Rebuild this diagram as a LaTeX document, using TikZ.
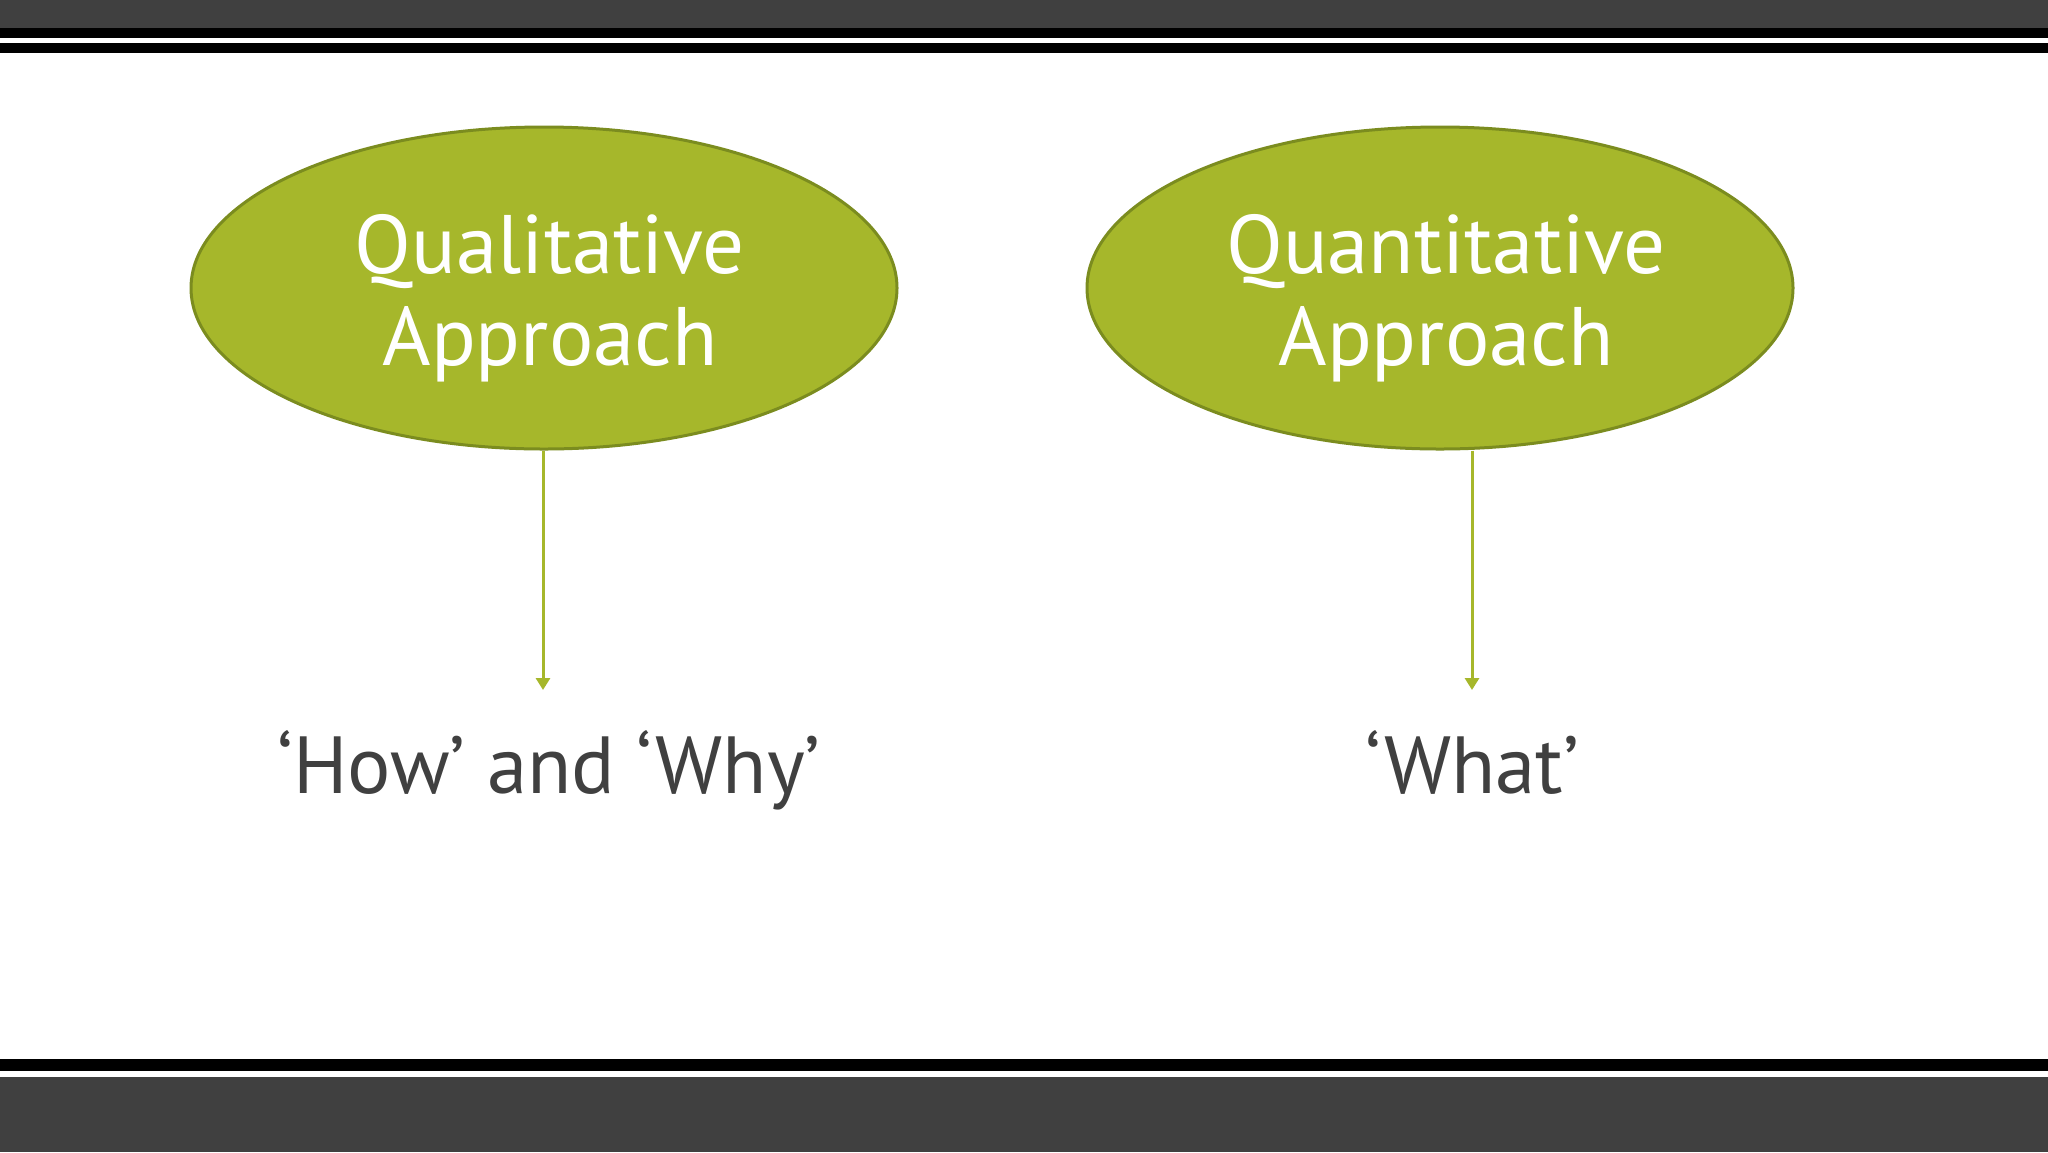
\documentclass[tikz,border=0pt]{standalone}
\usepackage{fontspec}
\setmainfont{PT Sans}
\usetikzlibrary{shapes.geometric,arrows.meta}
\definecolor{bar}{HTML}{404040}
\definecolor{leaf}{HTML}{A6B72B}
\definecolor{leafdark}{HTML}{7B8C1F}
\definecolor{ink}{HTML}{404040}
\tikzset{
  oval/.style={ellipse, fill=leaf, draw=leafdark, line width=1.5pt,
    minimum width=353pt, minimum height=161pt, inner sep=0pt},
  ovaltext/.style={text=white, font=\fontsize{41.5}{46}\selectfont, align=center},
  answer/.style={text=ink, font=\fontsize{40.5}{46}\selectfont, anchor=base},
  link/.style={draw=leaf, line width=1.5pt, -{Triangle[length=6pt,width=7pt]}}
}
\begin{document}
\begin{tikzpicture}[x=0.5pt,y=-0.5pt]
\useasboundingbox (0,0) rectangle (2048,1152);
% bars
\fill[bar] (0,0) rectangle (2048,28);
\fill[black] (0,28) rectangle (2048,38);
\fill[black] (0,43) rectangle (2048,53);
\fill[black] (0,1059) rectangle (2048,1071);
\fill[bar] (0,1077) rectangle (2048,1152);
% ellipses
\node[oval] (ql) at (544,288) {};
\node[oval] (qn) at (1440,288) {};
\node[ovaltext] (qlt) at (550,298) {Qualitative\\Approach};
\node[ovaltext] (qnt) at (1446,298) {Quantitative\\Approach};
% answers
\node[answer] (how) at (549,793) {‘How’ and ‘Why’};
\node[answer] (what) at (1472,793) {‘What’};
\coordinate (a1) at (543,690);
\coordinate (a2) at (1472,690);
\draw[link] (ql.south -| a1) -- (a1);
\draw[link] (qn.south -| a2) -- (a2);
\end{tikzpicture}
\end{document}
